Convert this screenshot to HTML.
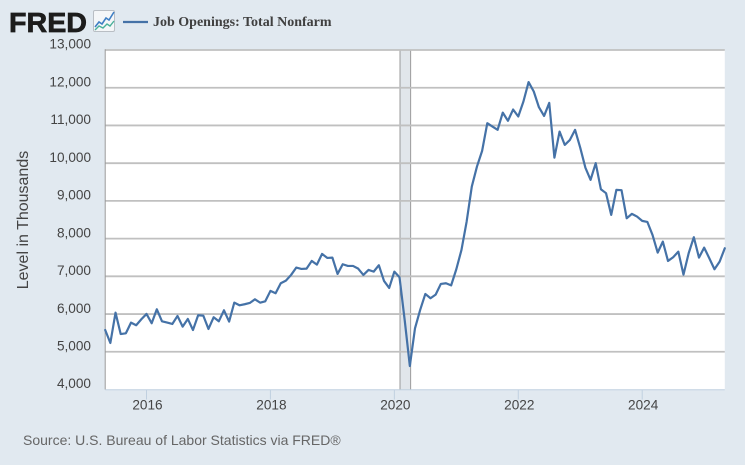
<!DOCTYPE html>
<html lang="en">
<head>
<meta charset="utf-8">
<title>Job Openings: Total Nonfarm</title>
<style>
html,body{margin:0;padding:0;background:#e1e9f0;}
body{width:745px;height:465px;overflow:hidden;position:relative;}
svg{display:block;position:absolute;left:0;top:0;}
text{font-family:"Liberation Sans",sans-serif;}
</style>
</head>
<body>
<svg id="chart" width="745" height="465" viewBox="0 0 745 465" xmlns="http://www.w3.org/2000/svg">
  <rect x="0" y="0" width="745" height="465" fill="#e1e9f0"/>
  <g>
    <text x="9" y="32" font-size="28" font-weight="700" fill="#1c1c1c" stroke="#1c1c1c" stroke-width="0.7" textLength="78" lengthAdjust="spacingAndGlyphs">FRED</text>
    <rect x="93.5" y="10.5" width="21" height="21" rx="1.5" fill="#f4f6f8" stroke="#b9bec4"/>
    <polyline points="95,27 99,22 102,24 106,18 109,20 114,12" fill="none" stroke="#3f7fc4" stroke-width="1.6"/>
    <polyline points="95,30 99,26 103,28 107,24 110,26 114,21" fill="none" stroke="#49b09a" stroke-width="1.4"/>
  </g>
  <g>
    <line x1="123" y1="22" x2="148" y2="22" stroke="#4572a7" stroke-width="2.2"/>
    <text x="153" y="26" font-size="14" font-weight="700" fill="#404040" style="font-family:'Liberation Serif',serif">Job Openings: Total Nonfarm</text>
  </g>
  <g id="plot"></g>
  <text transform="translate(28,220) rotate(-90)" text-anchor="middle" font-size="16" fill="#444">Level in Thousands</text>
  <text x="23" y="445" font-size="14" fill="#666">Source: U.S. Bureau of Labor Statistics via FRED®</text>
</svg>
<script>
const startYear = 2015;
const startMonth = 5;
const openings = [
5578,5233,6037,5470,5490,5773,5703,5862,
6003,5756,6127,5808,5773,5737,5950,5666,5870,5578,5968,5958,
5605,5914,5808,6100,5800,6303,6233,6260,6294,6392,6303,6339,
6613,6552,6817,6886,7037,7231,7196,7204,7408,7311,7594,7488,
7496,7064,7320,7276,7276,7204,7037,7170,7125,7294,6878,6692,
7125,6976,5844,4623,5623,6109,6533,6419,6515,6798,6817,6760,
7188,7700,8450,9380,9910,10326,11060,10970,10883,11340,11123,11422,
11237,11634,12150,11900,11483,11252,11597,10146,10838,10484,10616,10883,
10410,9880,9557,10000,9310,9204,8628,9292,9284,8539,8655,8584,
8470,8443,8098,7629,7920,7408,7506,7655,7045,7612,8037,7496,
7761,7480,7188,7390,7745
];
const yTicks = [4000,5000,6000,7000,8000,9000,10000,11000,12000,13000];
const yTickLabels = ["4,000","5,000","6,000","7,000","8,000","9,000","10,000","11,000","12,000","13,000"];
const xTickYears = [2016,2018,2020,2022,2024];
const xTickLabels = ["2016","2018","2020","2022","2024"];
const recessionStart = [2020,2];
const recessionEnd = [2020,4];

const SVG_NS = "http://www.w3.org/2000/svg";
const plotLeft = 105.2, plotRight = 724.8, plotTop = 50, plotBottom = 389.5;
const monthIndex = (y, m) => (y - startYear) * 12 + (m - startMonth);
const domainMax = openings.length - 1;
const xScale = i => plotLeft + (i / domainMax) * (plotRight - plotLeft);
const yScale = v => plotBottom - ((v - yTicks[0]) / (yTicks[yTicks.length - 1] - yTicks[0])) * (plotBottom - plotTop);
const plot = document.getElementById("plot");
function add(tag, attrs, text) {
  const el = document.createElementNS(SVG_NS, tag);
  for (const k in attrs) el.setAttribute(k, attrs[k]);
  if (text !== undefined) el.textContent = text;
  plot.appendChild(el);
  return el;
}

const bg = add("rect", {x: plotLeft, y: plotTop, width: plotRight - plotLeft, height: plotBottom - plotTop, fill: "#ffffff"});



const rx0 = xScale(monthIndex(recessionStart[0], recessionStart[1])) + 0.5;
const rx1 = xScale(monthIndex(recessionEnd[0], recessionEnd[1])) + 0.8;
const band = add("rect", {x: rx0, y: plotTop, width: rx1 - rx0, height: plotBottom - plotTop, fill: "#e1e6eb"});


[rx0, rx1].forEach(function (rx) {
  const edge = add("line", {x1: rx, x2: rx, y1: plotTop, y2: plotBottom, stroke: "#9a9a9a", "stroke-width": 1});
  
  
});

yTicks.forEach(function (v, i) {
  const y = yScale(v);
  if (i > 0) {
    const grid = add("line", {x1: plotLeft, x2: plotRight, y1: y, y2: y, stroke: "#c0c0c0", "stroke-width": 1.8});
    
    
  }
  const label = add("text", {x: 91, y: y - 1.3, "text-anchor": "end", "font-size": 13.6, fill: "#444"}, yTickLabels[i]);
  
  
});

const yAxis = add("line", {x1: plotLeft, x2: plotLeft, y1: plotTop - 0.8, y2: plotBottom, stroke: "#9a9a9a", "stroke-width": 1});


const xAxis = add("line", {x1: plotLeft, x2: plotRight, y1: plotBottom + 0.3, y2: plotBottom + 0.3, stroke: "#c0d0e0", "stroke-width": 1});



xTickYears.forEach(function (yr, i) {
  const x = xScale(monthIndex(yr, 1));
  const tick = add("line", {x1: x, x2: x, y1: plotBottom, y2: plotBottom + 10, stroke: "#c0d0e0", "stroke-width": 1});
  
  
  const label = add("text", {x: x + 1, y: 409.5, "text-anchor": "middle", "font-size": 13.6, fill: "#444"}, xTickLabels[i]);
  
  
});

const series = add("polyline", {
  points: openings.map((v, i) => xScale(i).toFixed(2) + "," + yScale(v).toFixed(2)).join(" "),
  fill: "none", stroke: "#4572a7", "stroke-width": 2.2, "stroke-linejoin": "round", "stroke-linecap": "round"
});


</script>
</body>
</html>
